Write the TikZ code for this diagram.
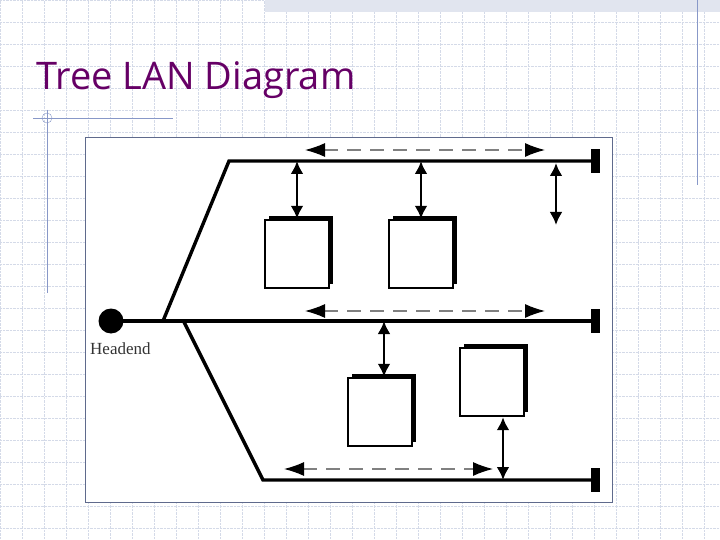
\documentclass[tikz,border=0pt]{standalone}
\usepackage{fontspec}
\setmainfont{Liberation Serif}
\newfontfamily\titlefont{Open Sans}
\usetikzlibrary{arrows.meta,positioning}
\definecolor{titlepurple}{HTML}{660066}
\definecolor{gridblue}{HTML}{D4DAE8}
\definecolor{rulesblue}{HTML}{8898C8}
\begin{document}
\begin{tikzpicture}[x=1pt,y=-1pt,
    cable/.style={line width=3.4pt},
    tap/.style={line width=2.6pt,{Latex[length=13pt,width=13pt]}-{Latex[length=13pt,width=13pt]}},
    flow/.style={line width=1.2pt,gray,dash pattern=on 14pt off 9pt,
                 {Latex[length=20pt,width=14pt,black]}-{Latex[length=20pt,width=14pt,black]}},
    station/.style={draw,line width=2.4pt,fill=white,minimum width=64pt,minimum height=68pt,inner sep=0pt},
    term/.style={fill=black,minimum width=9pt,minimum height=24pt,inner sep=0pt}]

  % slide background
  \useasboundingbox (0,0) rectangle (720,540);
  \fill[white] (0,0) rectangle (720,540);
  \draw[gridblue,densely dotted,step=22pt] (0,0) grid (720,540);
  \fill[gridblue!70] (265,0) rectangle (720,12);
  \draw[rulesblue] (697,0) -- (697,185);
  \draw[rulesblue] (47,110) -- (47,293);
  \draw[rulesblue] (33,118) -- (173,118);
  \draw[rulesblue] (47,118) circle (5pt);
  \node[anchor=base west,inner sep=0pt,text=titlepurple,font=\titlefont\fontsize{38}{42}\selectfont]
       (title) at (36,90) {Tree LAN Diagram};

  % frame
  \draw[rulesblue!70!black,fill=white] (85,137) rectangle (612,502);

  % headend and cables
  \node[circle,fill=black,minimum size=25pt,inner sep=0pt] (head) at (111,321) {};
  \node[anchor=north west,inner sep=0pt,font=\fontsize{17}{19}\selectfont,text=black!80] (hlabel) at (90,343) {Headend};
  \node[term] (tA) at (595,161) {};
  \node[term] (tB) at (595,321) {};
  \node[term] (tC) at (595,480) {};
  \coordinate (fork) at (163,321);
  \coordinate (forkB) at (184,322);
  \coordinate (kA) at (229,161);
  \coordinate (kC) at (263,480);
  \draw[cable] (head.center) -- (tB.center);
  \draw[cable,line join=miter] (fork) -- (kA) -- (tA.center);
  \draw[cable,line join=miter] (forkB) -- (kC) -- (tC.center);

  % stations
  \foreach \n/\x/\y in {s1/297/254, s2/421/254, s3/380/412, s4/492/382}
  {
    \fill[black] (\x-32+4,\y-34-4) rectangle (\x+32+4,\y+34-4);
    \node[station] (\n) at (\x,\y) {};
  }

  % taps
  \coordinate (a1) at (297,161);
  \coordinate (a2) at (421,161);
  \coordinate (a3) at (556,163);
  \coordinate (a3e) at (556,225);
  \coordinate (b1) at (384,321);
  \coordinate (c1) at (503,480);
  \draw[tap] (a1) -- (s1.north -| a1);
  \draw[tap] (a2) -- (s2.north -| a2);
  \draw[tap] (a3) -- (a3e);
  \draw[tap] (b1) -- (s3.north -| b1);
  \draw[tap] (c1) -- (s4.south -| c1);

  % signal flow
  \coordinate (fA1) at (305,150);
  \coordinate (fA2) at (545,150);
  \coordinate (fB1) at (305,311);
  \coordinate (fB2) at (545,311);
  \coordinate (fC1) at (284,469);
  \coordinate (fC2) at (493,469);
  \draw[flow] (fA1) -- (fA2);
  \draw[flow] (fB1) -- (fB2);
  \draw[flow] (fC1) -- (fC2);

\end{tikzpicture}
\end{document}
